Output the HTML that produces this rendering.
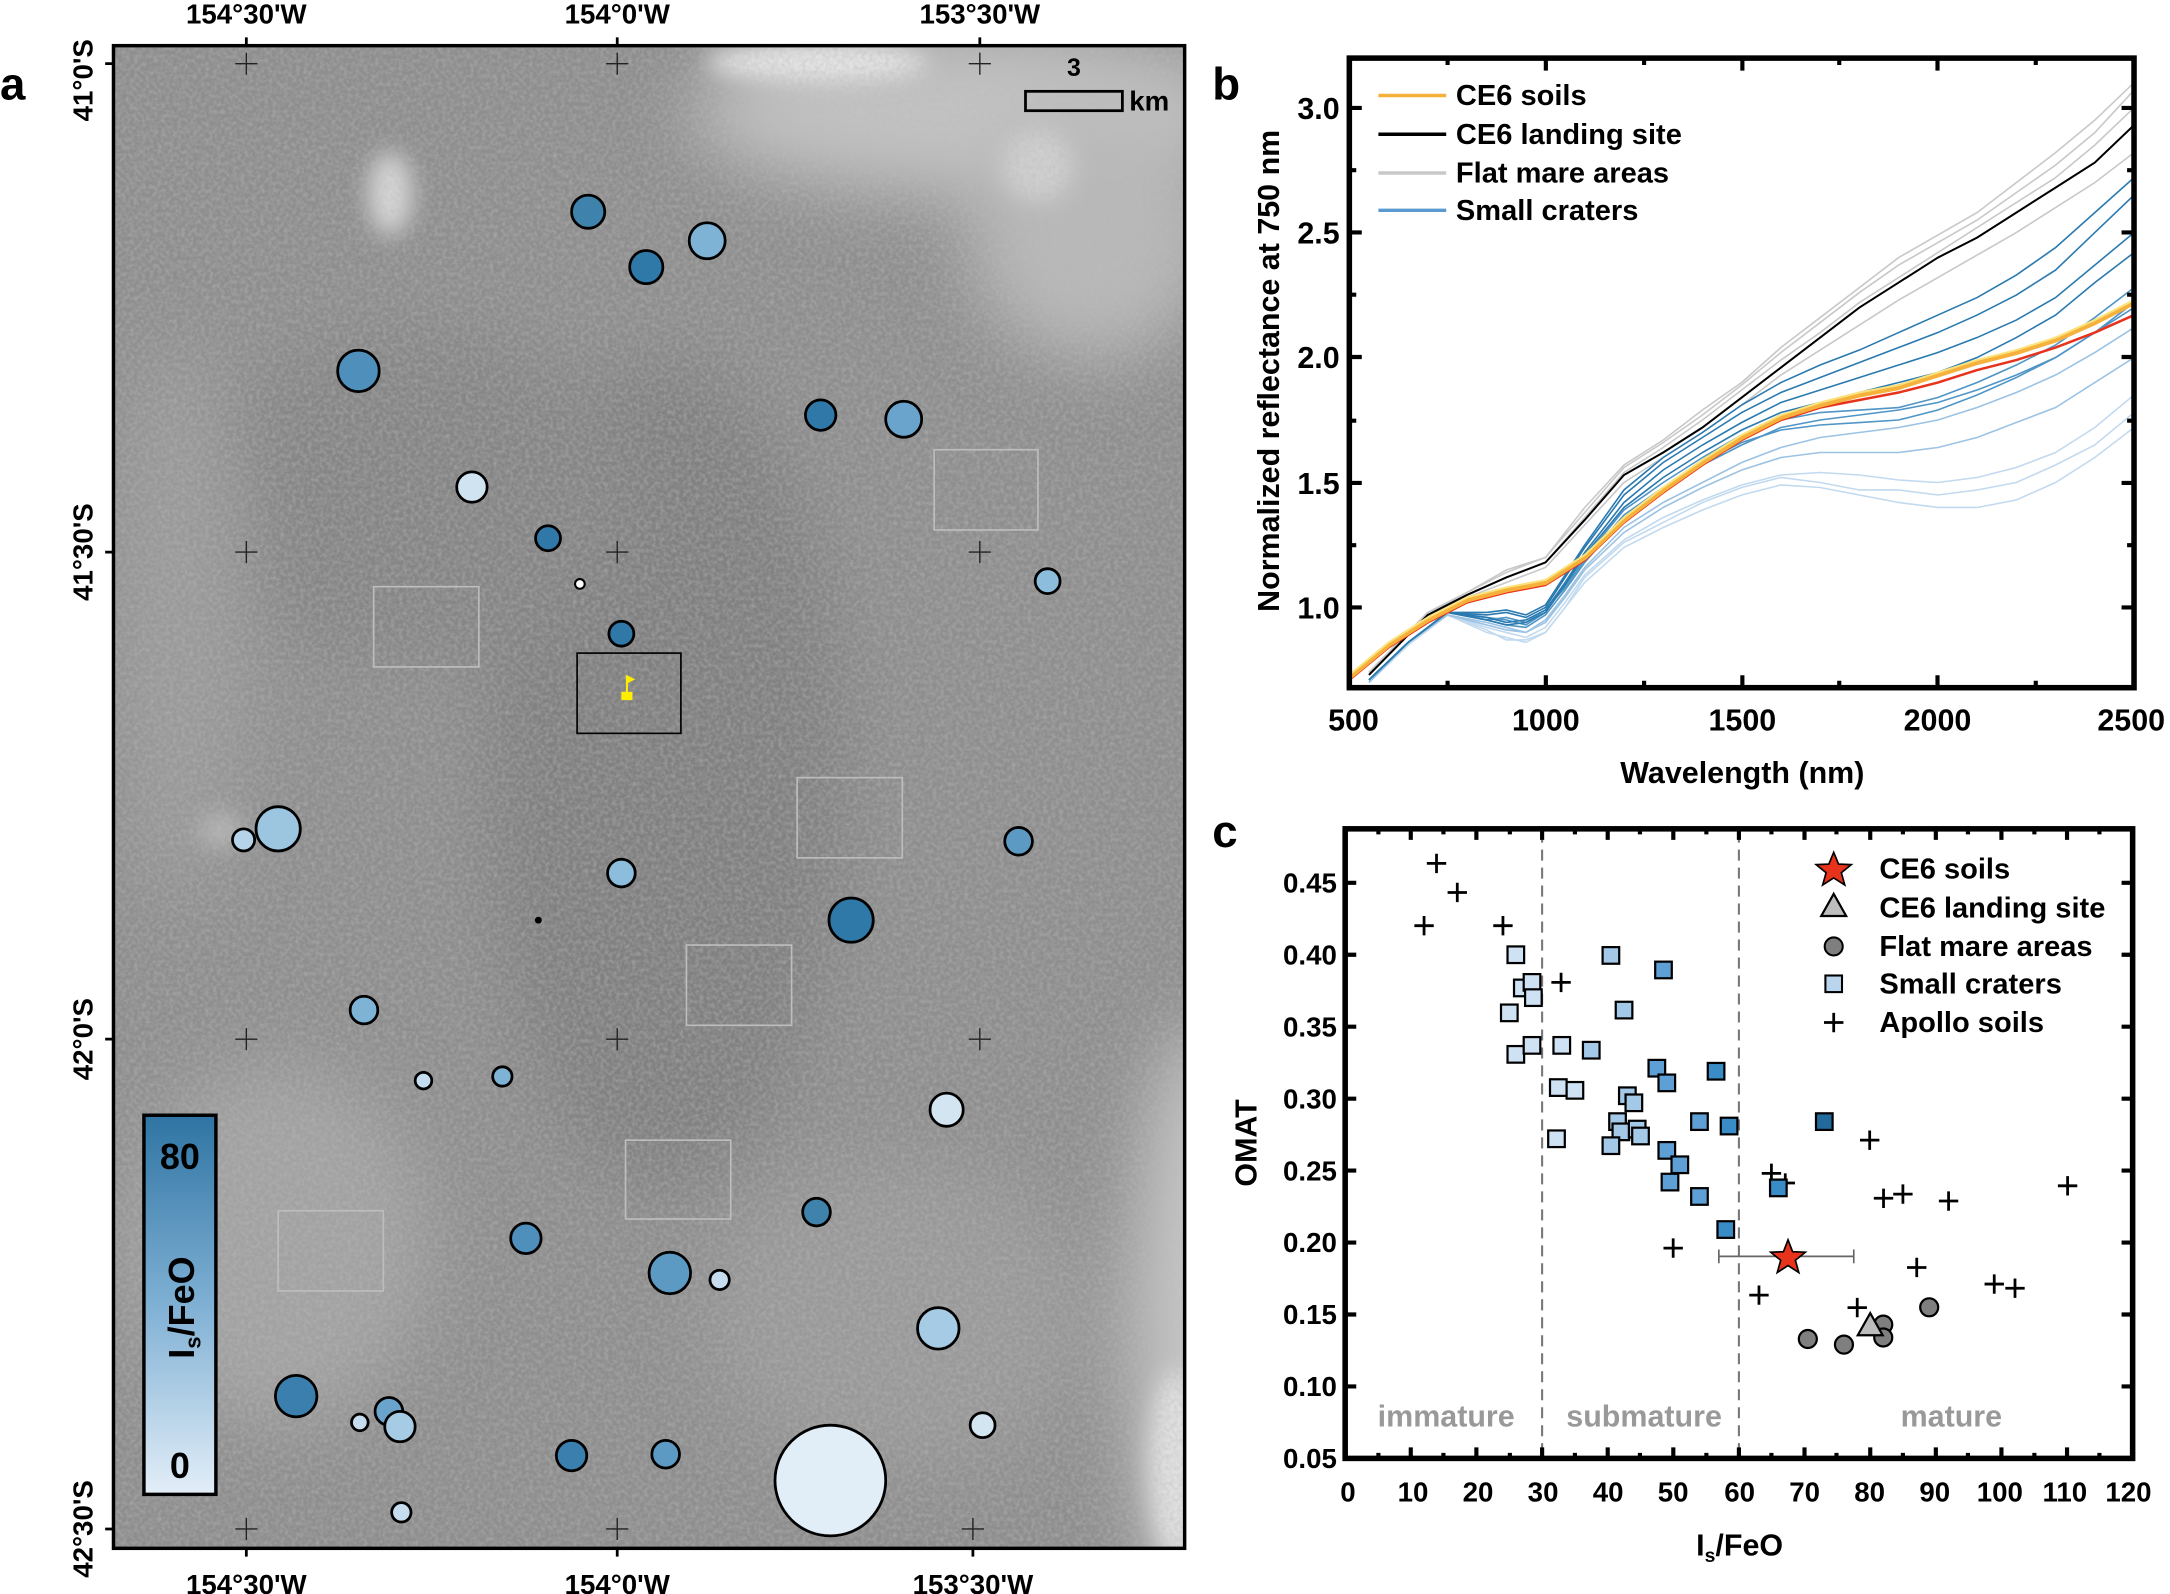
<!DOCTYPE html>
<html><head><meta charset="utf-8"><style>
html,body{margin:0;padding:0;background:#fff;}
svg{display:block;font-family:"Liberation Sans",Arial,sans-serif;font-weight:bold;}
</style></head><body>
<svg width="2170" height="1594" viewBox="0 0 1568 1152" preserveAspectRatio="none" xmlns="http://www.w3.org/2000/svg">
<defs>
<clipPath id="mapc"><rect x="82" y="33" width="774" height="1086"/></clipPath>
<clipPath id="bc"><rect x="975" y="42" width="567" height="455"/></clipPath>
<filter id="bl" x="-50%" y="-50%" width="200%" height="200%"><feGaussianBlur stdDeviation="25"/></filter>
<filter id="bl2" x="-50%" y="-50%" width="200%" height="200%"><feGaussianBlur stdDeviation="8"/></filter>
<filter id="nz" x="0" y="0" width="100%" height="100%"><feTurbulence type="fractalNoise" baseFrequency="0.35" numOctaves="2" seed="3"/><feColorMatrix type="matrix" values="0 0 0 0 0.5  0 0 0 0 0.5  0 0 0 0 0.5  0 0 0 1.6 -0.55"/></filter>
<linearGradient id="cb" x1="0" y1="0" x2="0" y2="1"><stop offset="0" stop-color="#2f74a3"/><stop offset="0.5" stop-color="#7fb0d4"/><stop offset="1" stop-color="#e3eef8"/></linearGradient>
</defs>

<!-- Panel a map -->
<g clip-path="url(#mapc)">
<rect x="82" y="33" width="774" height="1086" fill="#8e8e8e"/>
<g filter="url(#bl)">
<ellipse cx="480" cy="560" rx="130" ry="300" fill="#808080"/>
<ellipse cx="300" cy="360" rx="160" ry="120" fill="#858585"/>
<ellipse cx="200" cy="900" rx="110" ry="130" fill="#a2a2a2"/>
<ellipse cx="650" cy="950" rx="140" ry="110" fill="#999"/>
<ellipse cx="700" cy="80" rx="200" ry="60" fill="#c2c2c2"/>
<ellipse cx="790" cy="170" rx="90" ry="90" fill="#b8b8b8"/>
<ellipse cx="870" cy="960" rx="50" ry="220" fill="#c8c8c8"/>
<ellipse cx="130" cy="450" rx="50" ry="200" fill="#9a9a9a"/>
</g>
<g filter="url(#bl2)">
<ellipse cx="282" cy="140" rx="16" ry="30" fill="#d6d6d6"/>
<ellipse cx="590" cy="45" rx="80" ry="14" fill="#e6e6e6"/>
<ellipse cx="750" cy="120" rx="26" ry="26" fill="#cfcfcf"/>
<ellipse cx="850" cy="1060" rx="20" ry="70" fill="#e0e0e0"/>
<ellipse cx="160" cy="600" rx="16" ry="12" fill="#b5b5b5"/>
</g>
<rect x="82" y="33" width="774" height="1086" filter="url(#nz)" opacity="0.55"/>
</g>
<rect x="82" y="33" width="774" height="1086" fill="none" stroke="#000" stroke-width="2.5"/>
<g stroke="#222" stroke-width="1">
<path d="M170,46h16M178,38v16 M438,46h16M446,38v16 M700,46h16M708,38v16"/>
<path d="M170,399h16M178,391v16 M438,399h16M446,391v16 M700,399h16M708,391v16"/>
<path d="M170,751h16M178,743v16 M438,751h16M446,743v16 M700,751h16M708,743v16"/>
<path d="M170,1105h16M178,1097v16 M438,1105h16M446,1097v16 M695,1105h16M703,1097v16"/>
</g>
<g stroke="#000" stroke-width="2">
<path d="M178,27v6 M446,27v6 M708,27v6 M178,1119v6 M446,1119v6 M703,1119v6 M76,46h6 M76,399h6 M76,751h6 M76,1105h6"/>
</g>
<g fill="none" stroke="#bdbdbd" stroke-width="1.2">
<rect x="675" y="325" width="75" height="58"/><rect x="270" y="424" width="76" height="58"/>
<rect x="576" y="562" width="76" height="58"/><rect x="496" y="683" width="76" height="58"/>
<rect x="452" y="824" width="76" height="57"/><rect x="201" y="875" width="76" height="58"/>
</g>
<rect x="417" y="472" width="75" height="58" fill="none" stroke="#000" stroke-width="1.2"/>
<path d="M453,488v17" stroke="#ffee00" stroke-width="1.5"/><path d="M453,488l6,3l-6,3z" fill="#ffee00"/><rect x="449" y="500" width="8" height="6" fill="#ffee00"/>
<g stroke="#000" stroke-width="2">
<circle cx="425" cy="153" r="12" fill="#3f82ab"/>
<circle cx="467" cy="193" r="12" fill="#2e79a8"/>
<circle cx="511" cy="174" r="13" fill="#7fb3d5"/>
<circle cx="259" cy="268" r="15" fill="#4f8fbc"/>
<circle cx="593" cy="300" r="11" fill="#2f78a8"/>
<circle cx="653" cy="303" r="13" fill="#6aa3cc"/>
<circle cx="341" cy="352" r="11" fill="#d0e3f1"/>
<circle cx="396" cy="389" r="9" fill="#2f78a8"/>
<circle cx="757" cy="420" r="9" fill="#8cbddc"/>
<circle cx="419" cy="422" r="3.5" fill="#fff" stroke-width="1.5"/>
<circle cx="449" cy="458" r="9" fill="#2f78a8"/>
<circle cx="201" cy="599" r="16" fill="#9cc5e0"/>
<circle cx="176" cy="607" r="8" fill="#b5d4ea"/>
<circle cx="736" cy="608" r="10" fill="#5c9ac4"/>
<circle cx="449" cy="631" r="10" fill="#8cbddc"/>
<circle cx="615" cy="665" r="16" fill="#2e79a8"/>
<circle cx="263" cy="730" r="10" fill="#7fb3d5"/>
<circle cx="306" cy="781" r="6" fill="#c6ddef"/>
<circle cx="363" cy="778" r="7" fill="#7fb3d5"/>
<circle cx="684" cy="802" r="12" fill="#d4e5f2"/>
<circle cx="590" cy="876" r="10" fill="#3f82ab"/>
<circle cx="380" cy="895" r="11" fill="#4f8fbc"/>
<circle cx="484" cy="920" r="15" fill="#5c9ac4"/>
<circle cx="520" cy="925" r="7" fill="#c6ddef"/>
<circle cx="678" cy="960" r="15" fill="#a6cbe5"/>
<circle cx="214" cy="1009" r="15" fill="#3a7fae"/>
<circle cx="281" cy="1020" r="10" fill="#6aa3cc"/>
<circle cx="289" cy="1031" r="11" fill="#a6cbe5"/>
<circle cx="260" cy="1028" r="6" fill="#c6ddef"/>
<circle cx="710" cy="1030" r="9" fill="#d4e5f2"/>
<circle cx="413" cy="1052" r="11" fill="#3a7fae"/>
<circle cx="481" cy="1051" r="10" fill="#5c9ac4"/>
<circle cx="290" cy="1093" r="7" fill="#c6ddef"/>
<circle cx="600" cy="1070" r="40" fill="#e2eef7"/>
</g>
<circle cx="389" cy="665" r="2.5" fill="#000"/>
<text x="776" y="55" font-size="18" text-anchor="middle">3</text>
<rect x="741" y="66" width="70" height="14" fill="none" stroke="#000" stroke-width="2"/>
<text x="816" y="80" font-size="20">km</text>
<rect x="104" y="806" width="52" height="274" fill="url(#cb)" stroke="#000" stroke-width="2.5"/>
<text x="130" y="845" font-size="26" text-anchor="middle">80</text>
<text x="130" y="1068" font-size="26" text-anchor="middle">0</text>
<text transform="translate(140,945) rotate(-90)" font-size="26" text-anchor="middle">I<tspan font-size="16" dy="5">s</tspan><tspan dy="-5">/FeO</tspan></text>
<g font-size="20" text-anchor="middle">
<text x="178" y="17">154°30'W</text><text x="446" y="17">154°0'W</text><text x="708" y="17">153°30'W</text>
<text x="178" y="1152">154°30'W</text><text x="446" y="1152">154°0'W</text><text x="703" y="1152">153°30'W</text>
<text transform="translate(67,58) rotate(-90)">41°0'S</text>
<text transform="translate(67,399) rotate(-90)">41°30'S</text>
<text transform="translate(67,751) rotate(-90)">42°0'S</text>
<text transform="translate(67,1105) rotate(-90)">42°30'S</text>
</g>
<text x="0" y="72" font-size="33">a</text>
<text x="876" y="72" font-size="33">b</text>
<text x="876" y="612" font-size="33">c</text>

<!-- Panel b -->
<g clip-path="url(#bc)">
<g transform="translate(975,439) scale(0.2835,-180.6) translate(-500,-1)" fill="none" stroke-width="1.6">
<g stroke="#c8c8c8">
<polyline vector-effect="non-scaling-stroke" points="550,0.74 700,0.98 800,1.06 900,1.14 1000,1.2 1100,1.38 1200,1.56 1300,1.66 1400,1.77 1500,1.89 1600,2.02 1700,2.14 1800,2.26 1900,2.37 2000,2.46 2100,2.55 2200,2.66 2300,2.77 2400,2.9 2500,3.07"/>
<polyline vector-effect="non-scaling-stroke" points="550,0.74 700,0.98 800,1.05 900,1.12 1000,1.18 1100,1.36 1200,1.54 1300,1.64 1400,1.75 1500,1.87 1600,1.99 1700,2.1 1800,2.22 1900,2.32 2000,2.42 2100,2.52 2200,2.62 2300,2.72 2400,2.85 2500,3.0"/>
<polyline vector-effect="non-scaling-stroke" points="550,0.74 700,0.97 800,1.04 900,1.1 1000,1.16 1100,1.33 1200,1.5 1300,1.6 1400,1.7 1500,1.81 1600,1.93 1700,2.03 1800,2.13 1900,2.23 2000,2.32 2100,2.41 2200,2.5 2300,2.6 2400,2.7 2500,2.82"/>
<polyline vector-effect="non-scaling-stroke" points="550,0.74 700,0.98 800,1.06 900,1.15 1000,1.2 1100,1.4 1200,1.57 1300,1.67 1400,1.79 1500,1.9 1600,2.04 1700,2.16 1800,2.28 1900,2.4 2000,2.49 2100,2.58 2200,2.7 2300,2.82 2400,2.95 2500,3.1"/>
</g>
<g stroke="#c2daef">
<polyline vector-effect="non-scaling-stroke" points="550,0.7 650,0.85 750,0.97 850,0.9 900,0.88 950,0.86 1000,0.9 1050,1.0 1100,1.1 1200,1.24 1300,1.32 1400,1.39 1500,1.45 1600,1.49 1700,1.48 1800,1.45 1900,1.42 2000,1.4 2100,1.4 2200,1.43 2300,1.5 2400,1.6 2500,1.72"/>
<polyline vector-effect="non-scaling-stroke" points="550,0.7 650,0.85 750,0.97 850,0.92 900,0.9 950,0.88 1000,0.92 1050,1.02 1100,1.13 1200,1.27 1300,1.36 1400,1.43 1500,1.49 1600,1.53 1700,1.54 1800,1.53 1900,1.51 2000,1.5 2100,1.52 2200,1.56 2300,1.62 2400,1.72 2500,1.85"/>
<polyline vector-effect="non-scaling-stroke" points="550,0.7 650,0.85 750,0.97 850,0.91 900,0.87 950,0.87 1000,0.9 1050,1.0 1100,1.12 1200,1.26 1300,1.34 1400,1.42 1500,1.48 1600,1.52 1700,1.5 1800,1.47 1900,1.47 2000,1.45 2100,1.47 2200,1.5 2300,1.57 2400,1.65 2500,1.78"/>
</g>
<g stroke="#9cc3e3">
<polyline vector-effect="non-scaling-stroke" points="550,0.7 650,0.86 750,0.97 850,0.93 900,0.91 950,0.9 1000,0.94 1050,1.04 1100,1.15 1200,1.3 1300,1.4 1400,1.48 1500,1.55 1600,1.6 1700,1.62 1800,1.62 1900,1.62 2000,1.64 2100,1.68 2200,1.74 2300,1.8 2400,1.9 2500,2.0"/>
<polyline vector-effect="non-scaling-stroke" points="550,0.7 650,0.86 750,0.97 850,0.94 900,0.92 950,0.9 1000,0.95 1050,1.05 1100,1.16 1200,1.32 1300,1.42 1400,1.5 1500,1.58 1600,1.64 1700,1.68 1800,1.7 1900,1.72 2000,1.75 2100,1.8 2200,1.86 2300,1.93 2400,2.02 2500,2.12"/>
</g>
<g stroke="#4f95c6">
<polyline vector-effect="non-scaling-stroke" points="550,0.71 650,0.86 750,0.98 850,0.95 900,0.93 950,0.92 1000,0.97 1050,1.07 1100,1.18 1200,1.36 1300,1.47 1400,1.57 1500,1.65 1600,1.72 1700,1.75 1800,1.77 1900,1.79 2000,1.82 2100,1.87 2200,1.93 2300,2.0 2400,2.1 2500,2.2"/>
<polyline vector-effect="non-scaling-stroke" points="550,0.71 650,0.86 750,0.98 850,0.96 900,0.95 950,0.93 1000,0.98 1050,1.09 1100,1.2 1200,1.39 1300,1.5 1400,1.6 1500,1.69 1600,1.75 1700,1.78 1800,1.79 1900,1.8 2000,1.84 2100,1.9 2200,1.97 2300,2.05 2400,2.16 2500,2.28"/>
<polyline vector-effect="non-scaling-stroke" points="550,0.71 650,0.86 750,0.98 850,0.95 900,0.96 950,0.94 1000,0.99 1050,1.08 1100,1.19 1200,1.37 1300,1.48 1400,1.58 1500,1.66 1600,1.71 1700,1.73 1800,1.74 1900,1.75 2000,1.79 2100,1.85 2200,1.92 2300,2.0 2400,2.1 2500,2.22"/>
</g>
<g stroke="#2a7ab0">
<polyline vector-effect="non-scaling-stroke" points="550,0.71 650,0.86 750,0.98 850,0.97 900,0.98 950,0.96 1000,1.0 1050,1.12 1100,1.24 1200,1.45 1300,1.58 1400,1.68 1500,1.78 1600,1.86 1700,1.92 1800,1.98 1900,2.04 2000,2.1 2100,2.17 2200,2.25 2300,2.35 2400,2.5 2500,2.65"/>
<polyline vector-effect="non-scaling-stroke" points="550,0.71 650,0.86 750,0.98 850,0.96 900,0.94 950,0.95 1000,0.99 1050,1.1 1100,1.22 1200,1.42 1300,1.55 1400,1.65 1500,1.74 1600,1.82 1700,1.87 1800,1.92 1900,1.97 2000,2.02 2100,2.08 2200,2.15 2300,2.24 2400,2.37 2500,2.5"/>
<polyline vector-effect="non-scaling-stroke" points="550,0.71 650,0.86 750,0.98 850,0.98 900,0.99 950,0.97 1000,1.01 1050,1.13 1100,1.25 1200,1.47 1300,1.6 1400,1.7 1500,1.81 1600,1.9 1700,1.97 1800,2.03 1900,2.1 2000,2.17 2100,2.24 2200,2.33 2300,2.44 2400,2.58 2500,2.72"/>
<polyline vector-effect="non-scaling-stroke" points="550,0.71 650,0.86 750,0.98 850,0.95 900,0.93 950,0.94 1000,0.98 1050,1.09 1100,1.21 1200,1.4 1300,1.52 1400,1.62 1500,1.71 1600,1.78 1700,1.82 1800,1.86 1900,1.9 2000,1.94 2100,2.0 2200,2.08 2300,2.17 2400,2.3 2500,2.42"/>
</g>
<polyline vector-effect="non-scaling-stroke" stroke="#000" stroke-width="2" points="550,0.73 700,0.97 800,1.05 900,1.12 1000,1.18 1100,1.35 1200,1.53 1300,1.62 1400,1.72 1500,1.84 1600,1.96 1700,2.08 1800,2.2 1900,2.3 2000,2.4 2100,2.48 2200,2.58 2300,2.68 2400,2.78 2500,2.93"/>
<polyline vector-effect="non-scaling-stroke" stroke="#e8331c" stroke-width="2.5" points="500,0.71 600,0.84 700,0.94 800,1.02 900,1.06 1000,1.09 1100,1.19 1200,1.34 1300,1.46 1400,1.57 1500,1.67 1600,1.75 1700,1.8 1800,1.83 1900,1.86 2000,1.9 2100,1.95 2200,1.99 2300,2.04 2400,2.1 2500,2.17"/>
<polyline vector-effect="non-scaling-stroke" stroke="#f6b13c" stroke-width="5" points="500,0.72 600,0.85 700,0.95 800,1.03 900,1.07 1000,1.1 1100,1.2 1200,1.35 1300,1.47 1400,1.58 1500,1.68 1600,1.76 1700,1.81 1800,1.85 1900,1.88 2000,1.93 2100,1.98 2200,2.02 2300,2.07 2400,2.14 2500,2.22"/>
<polyline vector-effect="non-scaling-stroke" stroke="#fbe27a" stroke-width="2" points="500,0.73 600,0.86 700,0.96 800,1.04 900,1.08 1000,1.11 1100,1.21 1200,1.36 1300,1.48 1400,1.59 1500,1.69 1600,1.77 1700,1.82 1800,1.86 1900,1.89 2000,1.94 2100,1.99 2200,2.03 2300,2.08 2400,2.15 2500,2.23"/>
</g>
</g>
<rect x="975" y="42" width="567" height="455" fill="none" stroke="#000" stroke-width="4"/>
<g stroke="#000" stroke-width="3">
<path d="M1117,497v-9M1259,497v-9M1400,497v-9M1117,42v9M1259,42v9M1400,42v9M1046,497v-5M1188,497v-5M1329,497v-5M1471,497v-5M1046,42v5M1188,42v5M1329,42v5M1471,42v5"/>
<path d="M975,78h9M975,168h9M975,258h9M975,349h9M975,439h9M1542,78h-9M1542,168h-9M1542,258h-9M1542,349h-9M1542,439h-9M975,123h5M975,213h5M975,304h5M975,394h5M1542,123h-5M1542,213h-5M1542,304h-5M1542,394h-5"/>
</g>
<g font-size="22" text-anchor="middle">
<text x="978" y="528">500</text><text x="1117" y="528">1000</text><text x="1259" y="528">1500</text><text x="1400" y="528">2000</text><text x="1540" y="528">2500</text>
</g>
<g font-size="22" text-anchor="end">
<text x="968" y="86">3.0</text><text x="968" y="176">2.5</text><text x="968" y="266">2.0</text><text x="968" y="357">1.5</text><text x="968" y="447">1.0</text>
</g>
<text x="1259" y="566" font-size="22" text-anchor="middle">Wavelength (nm)</text>
<text transform="translate(924,268) rotate(-90)" font-size="22" text-anchor="middle">Normalized reflectance at 750 nm</text>
<g stroke-width="2.5">
<path d="M996,69h49" stroke="#f6b13c"/><path d="M996,97h49" stroke="#000"/><path d="M996,125h49" stroke="#c8c8c8"/><path d="M996,152h49" stroke="#5a9ad0"/>
</g>
<g font-size="21">
<text x="1052" y="76">CE6 soils</text><text x="1052" y="104">CE6 landing site</text><text x="1052" y="132">Flat mare areas</text><text x="1052" y="159">Small craters</text>
</g>

<!-- Panel c -->
<path d="M1114.3,601V1052M1256.5,601V1052" stroke="#777" stroke-width="1.5" stroke-dasharray="8,5"/>
<g font-size="22" fill="#999" text-anchor="middle">
<text x="1045" y="1031">immature</text><text x="1188" y="1031">submature</text><text x="1410" y="1031">mature</text>
</g>
<g stroke="#000" stroke-width="2" fill="none">
<path d="M1022,669h14M1029,662v14 M1031,624h14M1038,617v14 M1046,645h14M1053,638v14 M1079,669h14M1086,662v14 M1121,710h14M1128,703v14 M1202,902h14M1209,895v14 M1264,936h14M1271,929v14 M1273,848h14M1280,841v14 M1283,855h14M1290,848v14 M1335,945h14M1342,938v14 M1344,824h14M1351,817v14 M1354,866h14M1361,859v14 M1368,863h14M1375,856v14 M1378,916h14M1385,909v14 M1401,868h14M1408,861v14 M1434,928h14M1441,921v14 M1449,931h14M1456,924v14 M1487,857h14M1494,850v14"/>
</g>
<g stroke="#000" stroke-width="1.6">
<g fill="#cfe2f3">
<rect x="1089.3" y="684" width="12" height="12"/><rect x="1094" y="708" width="12" height="12"/><rect x="1101" y="704" width="12" height="12"/><rect x="1102" y="715" width="12" height="12"/><rect x="1084.6" y="726" width="12" height="12"/><rect x="1089.3" y="756" width="12" height="12"/><rect x="1101" y="749.5" width="12" height="12"/><rect x="1122.5" y="749.5" width="12" height="12"/><rect x="1120" y="780" width="12" height="12"/><rect x="1118.7" y="817" width="12" height="12"/><rect x="1132" y="782" width="12" height="12"/>
</g>
<g fill="#a3c8e8">
<rect x="1143.8" y="753" width="12" height="12"/><rect x="1158" y="684.5" width="12" height="12"/><rect x="1167.5" y="724" width="12" height="12"/><rect x="1162.8" y="804.6" width="12" height="12"/><rect x="1169.9" y="785.9" width="12" height="12"/><rect x="1174.6" y="791" width="12" height="12"/><rect x="1165.2" y="812" width="12" height="12"/><rect x="1177" y="810" width="12" height="12"/><rect x="1179.4" y="815" width="12" height="12"/><rect x="1158" y="822" width="12" height="12"/>
</g>
<g fill="#5e9fd6">
<rect x="1196" y="695" width="12" height="12"/><rect x="1191.2" y="766" width="12" height="12"/><rect x="1198.4" y="776.6" width="12" height="12"/><rect x="1198.4" y="825.4" width="12" height="12"/><rect x="1207.8" y="835.8" width="12" height="12"/><rect x="1200.7" y="848.3" width="12" height="12"/><rect x="1222" y="804.6" width="12" height="12"/><rect x="1222" y="858.7" width="12" height="12"/>
</g>
<g fill="#3a8cc6">
<rect x="1234" y="768.2" width="12" height="12"/><rect x="1243.4" y="807.8" width="12" height="12"/><rect x="1241" y="882.6" width="12" height="12"/><rect x="1279" y="852.5" width="12" height="12"/>
</g>
<rect x="1312.2" y="804.6" width="12" height="12" fill="#226a9c"/>
<g fill="#7f7f7f">
<circle cx="1306.3" cy="967.7" r="6.5"/><circle cx="1332.4" cy="971.8" r="6.5"/><circle cx="1360.8" cy="957.3" r="6.5"/><circle cx="1360.8" cy="966.6" r="6.5"/><circle cx="1394" cy="944.8" r="6.5"/>
</g>
<path d="M1351.4,949l9,16h-18z" fill="#bdbdbd"/>
</g>
<path d="M1242,908h97M1242,903v10M1339.5,903v10" stroke="#666" stroke-width="1.2"/>
<path d="M1292,896l3.3,8.6l9.2,0.4l-7.2,5.8l2.5,8.9l-7.8,-5.1l-7.8,5.1l2.5,-8.9l-7.2,-5.8l9.2,-0.4z" fill="#e8331c" stroke="#000" stroke-width="1.2"/>
<rect x="972" y="599" width="569" height="455" fill="none" stroke="#000" stroke-width="4"/>
<g stroke="#000" stroke-width="3">
<path d="M1019.4,1054v-8M1066.8,1054v-8M1114.3,1054v-8M1161.7,1054v-8M1209.1,1054v-8M1256.5,1054v-8M1303.9,1054v-8M1351.4,1054v-8M1398.8,1054v-8M1446.2,1054v-8M1493.6,1054v-8"/>
<path d="M1019.4,599v8M1066.8,599v8M1114.3,599v8M1161.7,599v8M1209.1,599v8M1256.5,599v8M1303.9,599v8M1351.4,599v8M1398.8,599v8M1446.2,599v8M1493.6,599v8"/>
<path d="M996,1054v-4M1043,1054v-4M1091,1054v-4M1138,1054v-4M1185,1054v-4M1233,1054v-4M1280,1054v-4M1327,1054v-4M1375,1054v-4M1422,1054v-4M1470,1054v-4M1517,1054v-4M996,599v4M1043,599v4M1091,599v4M1138,599v4M1185,599v4M1233,599v4M1280,599v4M1327,599v4M1375,599v4M1422,599v4M1470,599v4M1517,599v4"/>
<path d="M972,1002h8M972,950h8M972,898h8M972,846h8M972,794h8M972,742h8M972,690h8M972,638h8M1541,1002h-8M1541,950h-8M1541,898h-8M1541,846h-8M1541,794h-8M1541,742h-8M1541,690h-8M1541,638h-8"/>
</g>
<g font-size="20" text-anchor="middle">
<text x="974" y="1085">0</text><text x="1021" y="1085">10</text><text x="1068" y="1085">20</text><text x="1115" y="1085">30</text><text x="1162" y="1085">40</text><text x="1209" y="1085">50</text><text x="1257" y="1085">60</text><text x="1304" y="1085">70</text><text x="1351" y="1085">80</text><text x="1398" y="1085">90</text><text x="1445" y="1085">100</text><text x="1492" y="1085">110</text><text x="1538" y="1085">120</text>
</g>
<g font-size="20" text-anchor="end">
<text x="966" y="1061">0.05</text><text x="966" y="1009">0.10</text><text x="966" y="957">0.15</text><text x="966" y="905">0.20</text><text x="966" y="853">0.25</text><text x="966" y="801">0.30</text><text x="966" y="749">0.35</text><text x="966" y="697">0.40</text><text x="966" y="645">0.45</text>
</g>
<text transform="translate(908,826) rotate(-90)" font-size="22" text-anchor="middle">OMAT</text>
<text x="1257" y="1124" font-size="22" text-anchor="middle">I<tspan font-size="14" dy="5">s</tspan><tspan dy="-5">/FeO</tspan></text>
<path d="M1325,616l3.5,8.5l9.2,0.4l-7.2,5.8l2.5,8.9l-8,-5.1l-8,5.1l2.5,-8.9l-7.2,-5.8l9.2,-0.4z" fill="#e8331c" stroke="#000" stroke-width="1.2"/>
<path d="M1325,646l9,16h-18z" fill="#bdbdbd" stroke="#000" stroke-width="1.6"/>
<circle cx="1325" cy="684" r="6.5" fill="#7f7f7f" stroke="#000" stroke-width="1.5"/>
<rect x="1319" y="705" width="12" height="12" fill="#b9d5ee" stroke="#000" stroke-width="1.5"/>
<path d="M1318,739h14M1325,732v14" stroke="#000" stroke-width="2"/>
<g font-size="21">
<text x="1358" y="635">CE6 soils</text><text x="1358" y="663">CE6 landing site</text><text x="1358" y="691">Flat mare areas</text><text x="1358" y="718">Small craters</text><text x="1358" y="746">Apollo soils</text>
</g>
</svg>
</body></html>
